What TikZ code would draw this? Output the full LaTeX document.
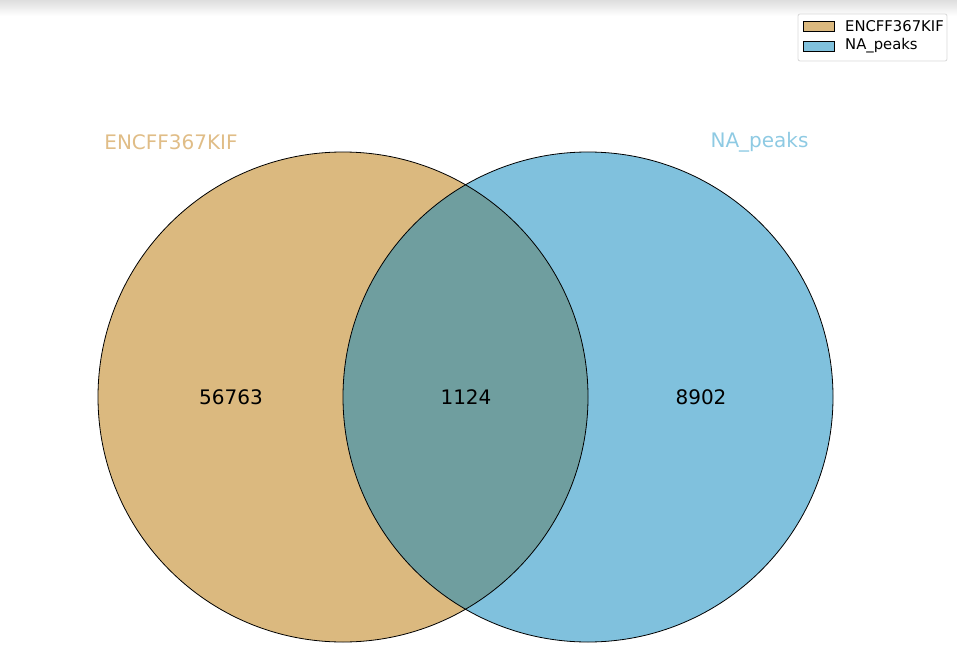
\documentclass[tikz,border=0pt]{standalone}
\usepackage{fontspec}
\setmainfont{DejaVu Sans}
\definecolor{tanc}{HTML}{DBB97F}
\definecolor{bluec}{HTML}{80C1DD}
\definecolor{mixc}{HTML}{6F9E9F}
\definecolor{tanlab}{HTML}{E0BD87}
\definecolor{bluelab}{HTML}{8ECAE3}
\begin{document}
\begin{tikzpicture}[x=1pt,y=-1pt,
  num/.style={font=\fontsize{20}{24}\selectfont, text=black},
  setlab/.style={font=\fontsize{20}{24}\selectfont},
  legtext/.style={font=\fontsize{14.8}{17}\selectfont, anchor=west, inner sep=0pt},
  legpatch/.style={draw=black, line width=0.9pt}]
\useasboundingbox (0,0) rectangle (957,668);
\shade[top color=black!13, bottom color=white] (0,0) rectangle (957,16);
% regions
\fill[tanc] (343,397) circle (245);
\fill[bluec] (588,397) circle (245);
\begin{scope}
  \clip (343,397) circle (245);
  \fill[mixc] (588,397) circle (245);
\end{scope}
\draw[black, line width=0.8pt] (343,397) circle (245);
\draw[black, line width=0.8pt] (588,397) circle (245);
% counts
\node[num] (a) at (231,397) {56763};
\node[num] (ab) at (466,397) {1124};
\node[num] (b) at (701,397) {8902};
% set labels
\node[setlab, text=tanlab] (la) at (171,142) {ENCFF367KIF};
\node[setlab, text=bluelab] (lb) at (759.5,142) {NA\_peaks};
% legend
\draw[draw=black!15, fill=white, rounded corners=2pt, line width=0.8pt] (798,14) rectangle (947,61);
\draw[legpatch, fill=tanc] (803,21.5) rectangle (834,31.5);
\draw[legpatch, fill=bluec] (803,41) rectangle (834,51);
\node[legtext] (l1) at (845,26.5) {ENCFF367KIF};
\node[legtext] (l2) at (845,46) {NA\_peaks};
\end{tikzpicture}
\end{document}
